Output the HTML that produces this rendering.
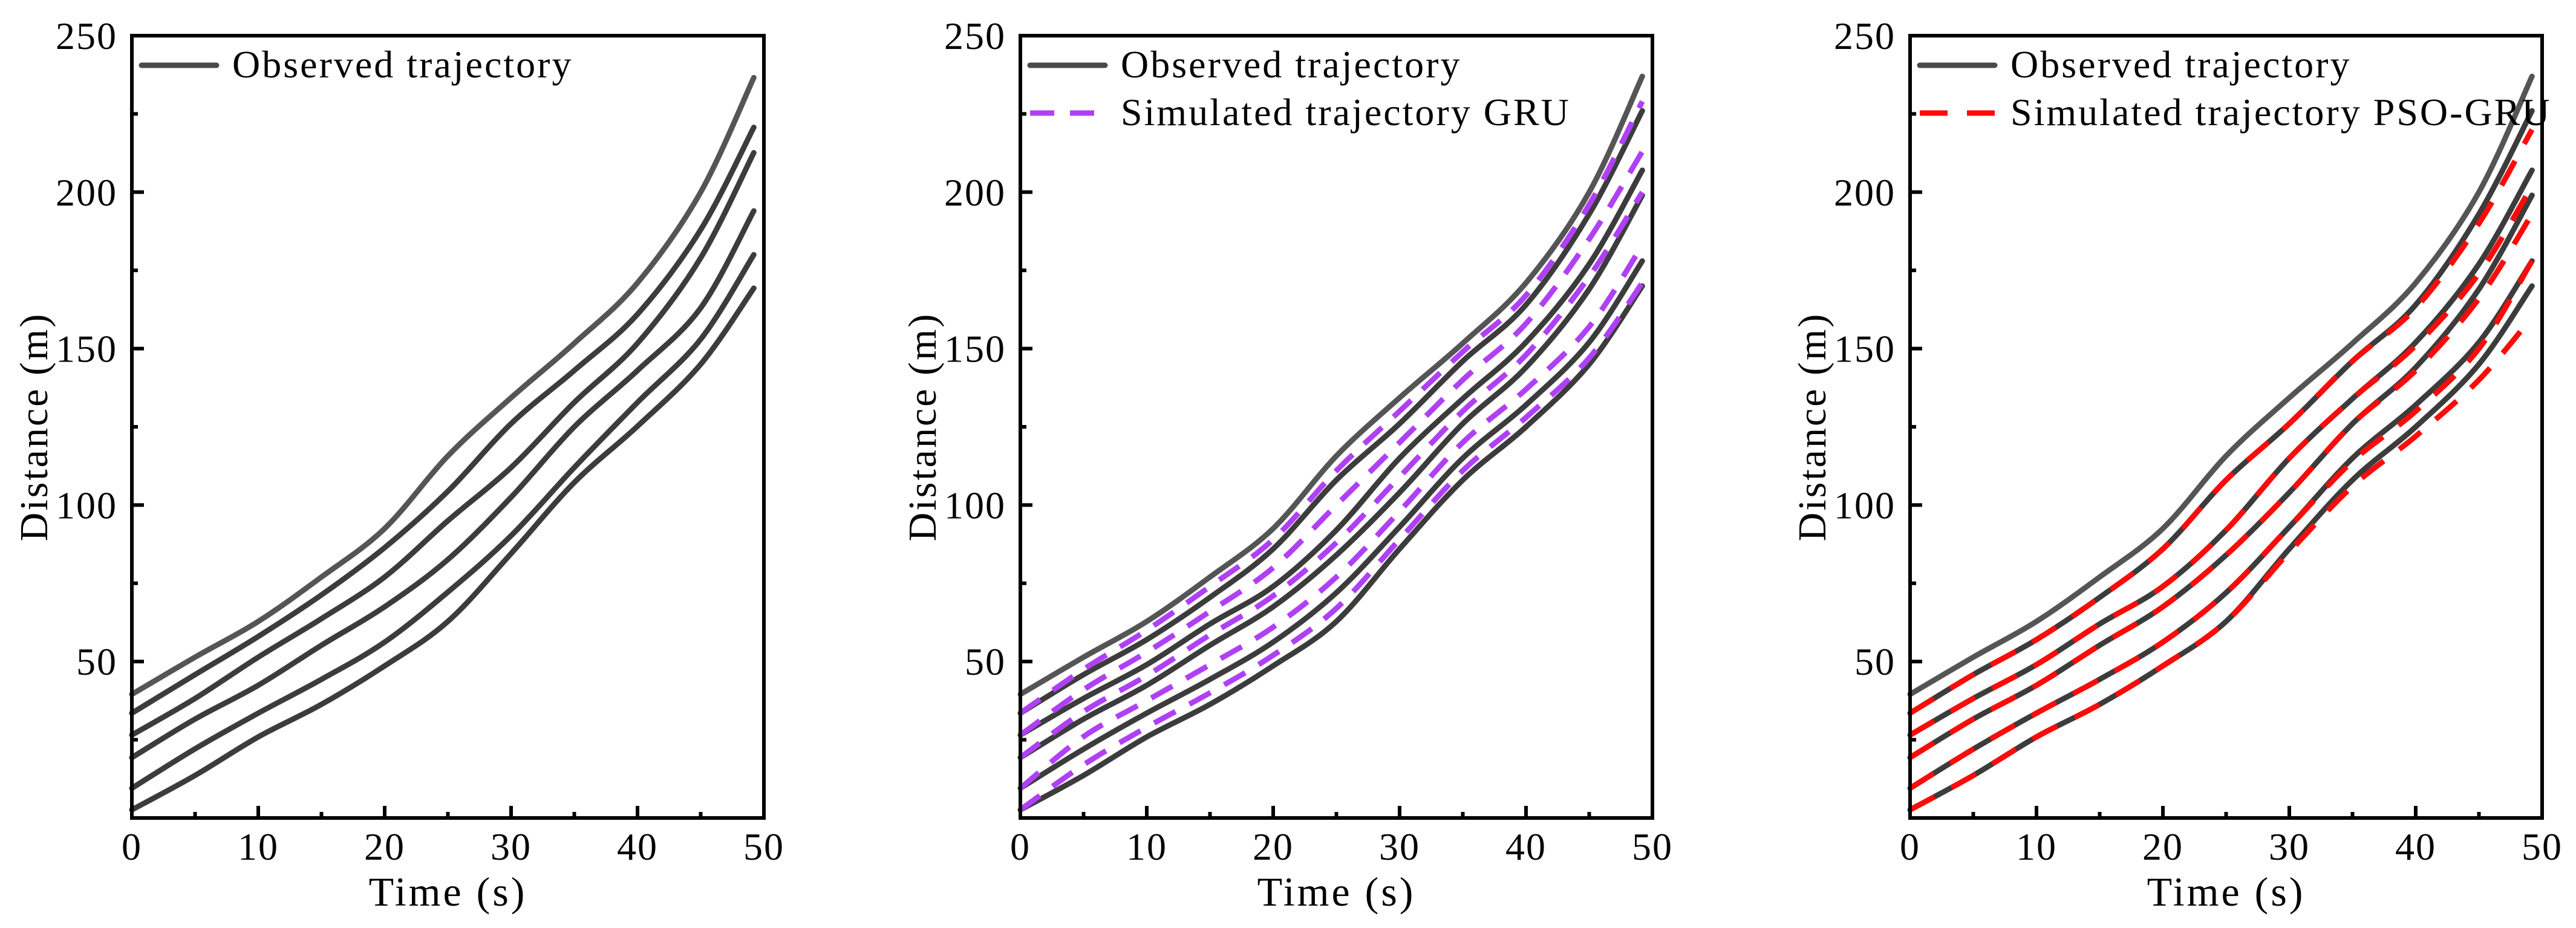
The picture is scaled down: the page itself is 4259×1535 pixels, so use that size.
<!DOCTYPE html>
<html><head><meta charset="utf-8">
<style>
html,body{margin:0;padding:0;background:#fff;}
svg{display:block;}
text{font-family:"Liberation Serif",serif;fill:#000;}
</style></head>
<body>
<svg id="chart" width="4259" height="1535" viewBox="0 0 4259 1535" xmlns="http://www.w3.org/2000/svg"></svg>
<script>
const timeValues=[0,5,10,15,20,25,30,35,40,45,49.2];
const xTickLabels=[0,10,20,30,40,50];
const yTickLabels=[50,100,150,200,250];
// panel 1 observed
const obs1A=[39.5,51.4,62.8,77,92.5,115.7,134.3,151.7,171,200,236.6];
const obs1B=[33.5,45.8,58,71.3,86.4,104.4,126,143,161,188,220.7];
const obs1C=[26.5,38.2,51.4,63.7,77,95,112,132.8,151.7,179,212.6];
const obs1D=[19.3,31.6,42.4,55.2,67.5,82.6,102.5,125,143,163,194];
const obs1E=[9.5,22.1,33.5,44.3,56.2,72.2,90.2,112,132.8,153,180];
const obs1F=[2.6,13.6,25.9,36.3,48.6,62.8,84.5,107.2,125.2,145,169.3];
// panels 2/3 observed
const obsA=[39.5,51.4,62.8,77,92.5,115.7,134.3,151.7,171,200,237];
const obsB=[33.5,45.8,57,70.5,86,108,126,146,164,193,226];
const obsC=[26.5,38.2,49,62,74,92,115,134,152,177,207];
const obsD=[19.3,31.6,42.4,55.2,67.5,84,104,126,144,169,199];
const obsE=[9.5,22,33.5,44.3,56.2,72,93,115,132,152,178];
const obsF=[2.6,13.6,25.9,36.3,48.6,62.8,86,108,125,145,170];
// GRU simulated
const gru1=[33.5,47.5,60,74,89,111,130,149,167,196,229];
const gru2=[26.5,41,53,66,80,100,120,140,158,185,213];
const gru3=[19.3,34,45.5,58.5,71,88,109,130,148,173,200];
const gru4=[9.5,26,37.5,49,61,77,98,120,137,157,183];
const gru5=[2.6,17,29,40,52,67,89,111,128,147,171];
// PSO-GRU simulated
const pso1=[33.5,45.8,57,70.5,86,108,126,146,163,190,220];
const pso2=[26.5,38.2,49,62,74,92,115,134,151,174,202];
const pso3=[19.3,31.6,42.4,55.2,67.5,84,104,126,143,166,193];
const pso4=[9.5,22,33.5,44.3,56.2,72,93,114,130,150,178];
const pso5=[2.6,13.6,25.9,36.3,48.6,62.8,85,106,122,140,160];

const NS="http://www.w3.org/2000/svg";
const svg=document.getElementById('chart');
const TOP=59,BOT=1353,W=1045;
function mk(tag,attrs,parent){const e=document.createElementNS(NS,tag);for(const k in attrs)e.setAttribute(k,attrs[k]);(parent||svg).appendChild(e);return e;}
function pathD(xs,ys,sx,sy){
  const p=xs.map((x,i)=>[sx(x),sy(ys[i])]);
  let d='M'+p[0][0].toFixed(1)+','+p[0][1].toFixed(1);
  for(let i=0;i<p.length-1;i++){
    const p0=p[Math.max(0,i-1)],p1=p[i],p2=p[i+1],p3=p[Math.min(p.length-1,i+2)];
    const c1=[p1[0]+(p2[0]-p0[0])/6,p1[1]+(p2[1]-p0[1])/6];
    const c2=[p2[0]-(p3[0]-p1[0])/6,p2[1]-(p3[1]-p1[1])/6];
    d+=' C'+c1[0].toFixed(1)+','+c1[1].toFixed(1)+' '+c2[0].toFixed(1)+','+c2[1].toFixed(1)+' '+p2[0].toFixed(1)+','+p2[1].toFixed(1);
  }
  return d;
}
function panel(idx,L,obs,sims,simColor,simDash,legend2){
  const g=mk('g',{});
  
  
  const sx=x=>L+x/50*W, sy=y=>BOT-y/250*(BOT-TOP);
  for(let v=0;v<=50;v+=5){
    const t=mk('line',{x1:sx(v),x2:sx(v),y1:BOT,y2:BOT-(v%10===0?20:10),stroke:'#000','stroke-width':6},g);
    
    
  }
  for(let v=25;v<=250;v+=25){
    const t=mk('line',{x1:L,x2:L+(v%50===0?20:10),y1:sy(v),y2:sy(v),stroke:'#000','stroke-width':6},g);
    
    
  }
  xTickLabels.forEach(v=>{const t=mk('text',{x:sx(v),y:1422,'font-size':64,'text-anchor':'middle','letter-spacing':2},g);t.textContent=v;
    
    });
  yTickLabels.forEach(v=>{const t=mk('text',{x:L-24,y:sy(v)+22,'font-size':64,'text-anchor':'end','letter-spacing':2},g);t.textContent=v;
    
    });
  const xt=mk('text',{x:L+W/2,y:1498,'font-size':68,'text-anchor':'middle','letter-spacing':4},g);xt.textContent='Time (s)';
  
  
  const yt=mk('text',{x:0,y:0,'font-size':66,'text-anchor':'middle','letter-spacing':3,transform:'translate('+(L-140)+',706) rotate(-90)'},g);yt.textContent='Distance (m)';
  
  
  obs.forEach((s,i)=>{const p=mk('path',{d:pathD(timeValues,s,sx,sy),fill:'none',stroke:i===0?'#555':'#3c3c3c','stroke-width':9,'stroke-linecap':'round'},g);
    
    });
  sims.forEach(s=>{const p=mk('path',{d:pathD(timeValues,s,sx,sy),fill:'none',stroke:simColor,'stroke-width':9,'stroke-dasharray':simDash},g);
    
    });
  const fr=mk('rect',{x:L,y:TOP,width:W,height:BOT-TOP,fill:'none',stroke:'#000','stroke-width':6},g);
  
  
  const l1=mk('line',{x1:L+16,x2:L+140,y1:108,y2:108,stroke:'#4a4a4a','stroke-width':9,'stroke-linecap':'round'},g);
  
  
  const t1=mk('text',{x:L+166,y:128,'font-size':64,'letter-spacing':3},g);t1.textContent='Observed trajectory';
  
  
  if(legend2){
    const l2=mk('line',{x1:L+16,x2:L+140,y1:187,y2:187,stroke:simColor,'stroke-width':9,'stroke-dasharray':simDash},g);
    
    
    const t2=mk('text',{x:L+166,y:207,'font-size':64,'letter-spacing':3},g);t2.textContent=legend2;
    
    
  }
}
panel(1,218,[obs1A,obs1B,obs1C,obs1D,obs1E,obs1F],[],'#000','',null);
panel(2,1687,[obsA,obsB,obsC,obsD,obsE,obsF],[gru1,gru2,gru3,gru4,gru5],'#b040f5','40 26','Simulated trajectory GRU');
panel(3,3158,[obsA,obsB,obsC,obsD,obsE,obsF],[pso1,pso2,pso3,pso4,pso5],'#ff0a0a','46 32','Simulated trajectory PSO-GRU');
</script>
</body></html>
